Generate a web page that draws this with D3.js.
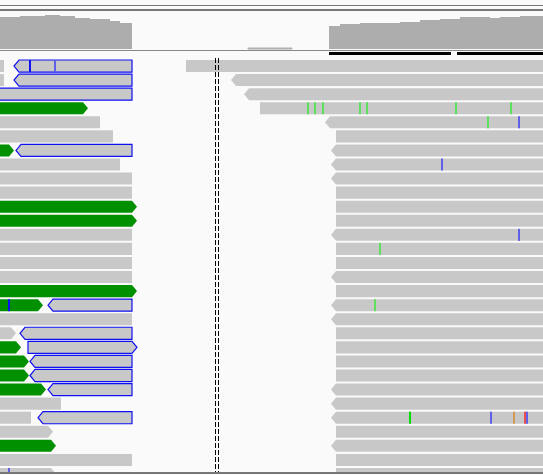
<!DOCTYPE html>
<html><head><meta charset="utf-8">
<script src="https://cdn.jsdelivr.net/npm/d3@7"></script>
<style>body{margin:0;background:#fafafa}svg{display:block}</style>
</head><body>
<script>
// genomic position (arbitrary units) -> coverage depth
const covLeft = [[0,32],[20,33],[45,34],[60,33],[75,31],[90,30],[110,28],[120,26],[132,25]];
const covRight = [[329,23],[340,25],[360,26],[380,26],[400,27],[420,29],[440,30],[460,32],[480,32],[490,31],[500,32],[520,33],[543,34]];
const covLow = [[248,1],[292,1]];
const featureBlocks = [[329,451],[457,543]];
// reads: [row, start, end, strand, color, outlined]
const reads = [
 [0,0,4,0,"g",0],[0,14,132,-1,"g",1],[0,186,543,0,"g",0],
 [1,0,4,0,"g",0],[1,14,132,-1,"g",1],[1,231,543,-1,"g",0],
 [2,-2,132,0,"g",1],[2,244,543,-1,"g",0],
 [3,0,88,1,"G",0],[3,260,543,0,"g",0],
 [4,0,100,0,"g",0],[4,325,543,-1,"g",0],
 [5,0,113,0,"g",0],[5,336,543,0,"g",0],
 [6,0,14,1,"G",0],[6,16,132,-1,"g",1],[6,331,543,-1,"g",0],
 [7,0,120,0,"g",0],[7,331,543,-1,"g",0],
 [8,0,132,0,"g",0],[8,331,543,-1,"g",0],
 [9,0,132,0,"g",0],[9,336,543,0,"g",0],
 [10,0,137,1,"G",0],[10,336,543,0,"g",0],
 [11,0,137,1,"G",0],[11,336,543,0,"g",0],
 [12,0,132,0,"g",0],[12,331,543,-1,"g",0],
 [13,0,132,0,"g",0],[13,336,543,0,"g",0],
 [14,0,132,0,"g",0],[14,336,543,0,"g",0],
 [15,0,132,0,"g",0],[15,331,543,-1,"g",0],
 [16,0,137,1,"G",0],[16,336,543,0,"g",0],
 [17,0,43,1,"G",0],[17,48,132,-1,"g",1],[17,331,543,-1,"g",0],
 [18,0,132,0,"g",0],[18,331,543,-1,"g",0],
 [19,0,16,1,"g",0],[19,20,132,-1,"g",1],[19,336,543,0,"g",0],
 [20,0,21,1,"G",0],[20,28,137,1,"g",1],[20,336,543,0,"g",0],
 [21,0,29,1,"G",0],[21,30,132,-1,"g",1],[21,336,543,0,"g",0],
 [22,0,29,1,"G",0],[22,30,132,-1,"g",1],[22,336,543,0,"g",0],
 [23,0,46,1,"G",0],[23,48,132,-1,"g",1],[23,331,543,-1,"g",0],
 [24,0,61,0,"g",0],[24,331,543,-1,"g",0],
 [25,0,31,0,"g",0],[25,38,132,-1,"g",1],[25,331,543,-1,"g",0],
 [26,0,53,1,"g",0],[26,336,543,0,"g",0],
 [27,0,56,1,"G",0],[27,331,543,-1,"g",0],
 [28,0,132,0,"g",0],[28,336,543,0,"g",0],
 [29,0,56,1,"g",0],[29,336,543,0,"g",0]
];
// mismatches: [row, pos, base]
const mism = [
 [0,29,"C2"],[0,54,"C"],
 [3,307,"A"],[3,314,"A"],[3,322,"A"],[3,359,"A"],[3,366,"A"],[3,455,"A"],[3,510,"A"],
 [4,487,"A"],[4,518,"C"],[7,441,"C"],[12,518,"C"],[13,379,"A"],[17,374,"A"],[17,8,"C2"],
 [25,409,"A2"],[25,490,"C"],[25,513,"G"],[25,524,"T"],[25,526,"C"],[29,8,"C"]
];
const baseColor = {A:"#5ee05e",A2:"#00e000",C:"#6060e8",C2:"#1010f0",G:"#d19a55",T:"#e85050"};
const W=543,H=475;
const x = d3.scaleLinear().domain([0,543]).range([0,543]);
const y = d3.scaleBand().domain(d3.range(30)).range([60,480]).paddingInner(2/14);
const cy = d3.scaleLinear().domain([0,34]).range([49,15]);
const svg = d3.select("body").append("svg").attr("width",W).attr("height",H);
svg.append("rect").attr("width",W).attr("height",H).attr("fill","#fafafa");
svg.append("clipPath").attr("id","c").append("rect").attr("y",0).attr("width",W).attr("height",472);
const g = svg.append("g").attr("clip-path","url(#c)");
const area = d3.area().curve(d3.curveStepAfter).x(d=>x(d[0])).y0(cy(0)).y1(d=>cy(d[1]));
[covLeft,covRight].forEach(c=>g.append("path").attr("d",area(c)).attr("fill","#adadad"));
g.append("path").attr("d",area(covLow)).attr("fill","#adadad").attr("stroke","#b0b0b0");
g.append("line").attr("x1",0).attr("x2",W).attr("y1",5.5).attr("y2",5.5).attr("stroke","#777");
g.append("line").attr("x1",0).attr("x2",W).attr("y1",10).attr("y2",10).attr("stroke","#777").attr("stroke-width",2);
g.append("line").attr("x1",0).attr("x2",W).attr("y1",50.5).attr("y2",50.5).attr("stroke","#888");
featureBlocks.forEach(b=>g.append("rect").attr("x",x(b[0])).attr("width",x(b[1])-x(b[0])).attr("y",52).attr("height",3).attr("fill","#000"));
const bw=y.bandwidth();
function readPath(r){
  const [row,s,e,str]=r; const x0=x(s),x1=x(e),t=y(row),b=t+bw,m=t+bw/2;
  if(str===1) return `M${x0},${t}H${x1-5}L${x1},${m}L${x1-5},${b}H${x0}Z`;
  if(str===-1) return `M${x0+5},${t}H${x1}V${b}H${x0+5}L${x0},${m}Z`;
  return `M${x0},${t}H${x1}V${b}H${x0}Z`;
}
g.selectAll("path.read").data(reads).join("path").attr("class","read")
 .attr("d",readPath).attr("fill",d=>d[4]==="G"?"#009000":"#c8c8c8")
 .attr("stroke",d=>d[5]?"#1010f0":"none").attr("stroke-width",1.2);
g.selectAll("rect.mm").data(mism).join("rect").attr("class","mm")
 .attr("x",d=>x(d[1])).attr("width",2).attr("y",d=>y(d[0])).attr("height",bw)
 .attr("fill",d=>baseColor[d[2]]);
[215.5,218.5].forEach(p=>g.append("line").attr("x1",p).attr("x2",p).attr("y1",58).attr("y2",472)
 .attr("stroke","#000").attr("stroke-dasharray","5,2"));
svg.append("line").attr("x1",0).attr("x2",W).attr("y1",473).attr("y2",473).attr("stroke","#777").attr("stroke-width",2);
</script>
</body></html>
